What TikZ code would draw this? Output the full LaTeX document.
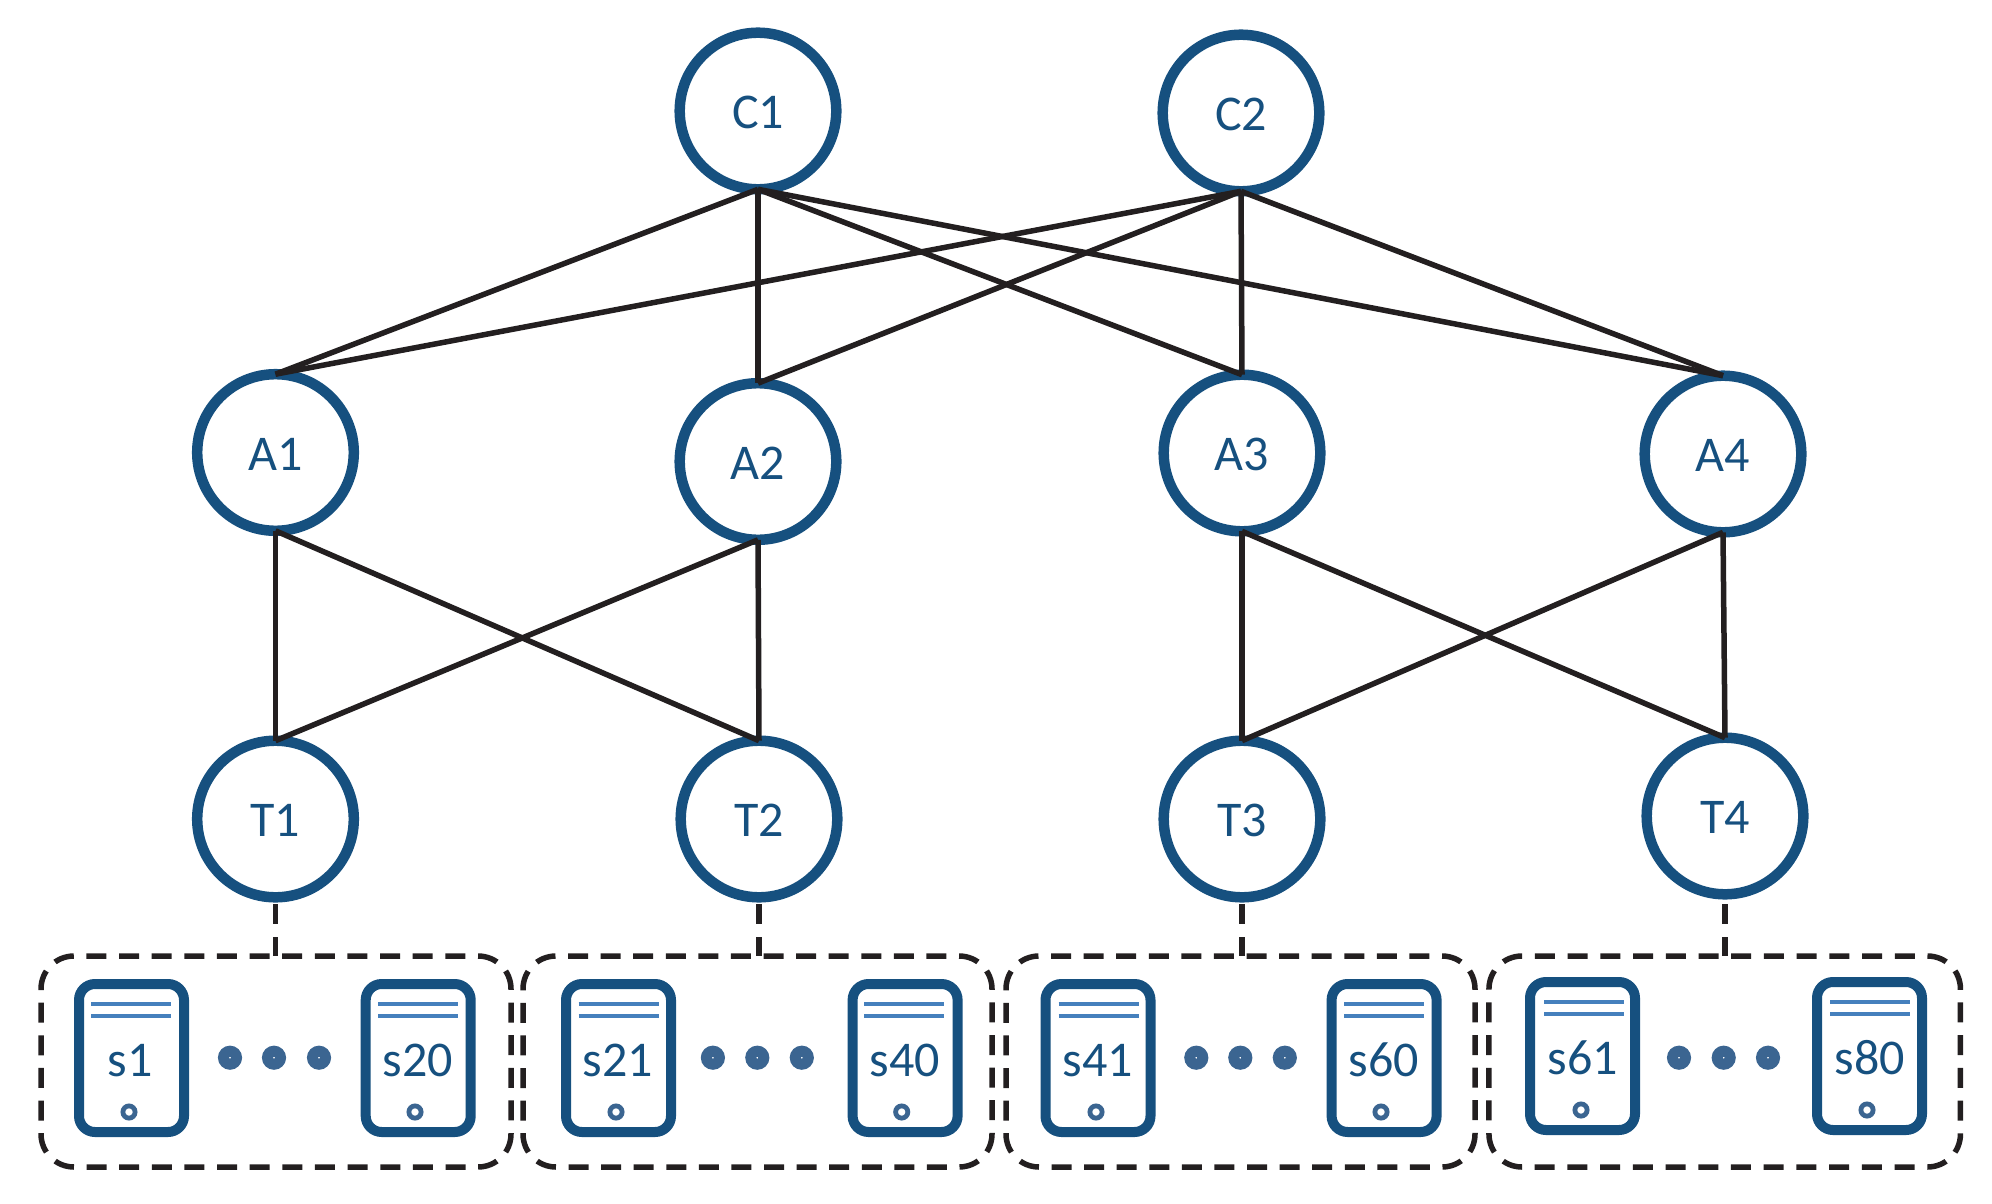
\documentclass[tikz,border=0pt]{standalone}
\usepackage{fontspec}
\setmainfont{Carlito}
\definecolor{netblue}{HTML}{16507F}
\definecolor{barblue}{HTML}{4580BD}
\definecolor{dotblue}{HTML}{3B6591}
\definecolor{wire}{HTML}{231F20}
\tikzset{
  sw/.style={circle,draw=netblue,line width=10.5pt,fill=white,minimum size=156.6pt,inner sep=0pt,outer sep=0pt,text=netblue,text height=35pt,text depth=0pt,font=\fontsize{50}{60}\selectfont},
  link/.style={draw=wire,line width=5.5pt},
  stem/.style={draw=wire,line width=5.5pt,dash pattern=on 20pt off 13pt},
  group/.style={rectangle,draw=wire,line width=5.5pt,rounded corners=33pt,minimum height=211pt,inner sep=0pt,outer sep=0pt,dash phase=20pt},
  srv/.style={rectangle,draw=netblue,line width=10pt,rounded corners=16pt,minimum width=105pt,minimum height=148pt,inner sep=0pt,outer sep=0pt,fill=white},
  srvlabel/.style={anchor=base,inner sep=0pt,text=netblue,font=\fontsize{50}{60}\selectfont},
  bar/.style={draw=barblue,line width=4.6pt},
  knob/.style={circle,draw=dotblue,line width=4.8pt,fill=white,minimum size=12.2pt,inner sep=0pt},
  ellipsisdot/.style={circle,draw=dotblue,line width=11pt,fill=white,minimum size=13pt,inner sep=0pt}
}
% name, rect left, bar left, knob x, text x, top y, label
\newcommand\serverbox[7]{%
  \node[srv] (#1) at ({#2+52.5},{#6+74}) {};
  \draw[bar] (#3,#6+20) coordinate (#1ba) -- ++(80,0);
  \draw[bar] (#3,#6+32) coordinate (#1bb) -- ++(80,0);
  \node[knob] (#1k) at (#4,#6+128) {};
  \node[srvlabel] (#1t) at (#5,#6+92) {#7};
}
\newcommand\threedots[5]{%
  \node[ellipsisdot] (#1a) at (#2,#5) {};
  \node[ellipsisdot] (#1b) at (#3,#5) {};
  \node[ellipsisdot] (#1c) at (#4,#5) {};
}
\begin{document}
\begin{tikzpicture}[x=1pt,y=-1pt]
\useasboundingbox (0,0) rectangle (1992,1204);
% switches
\node[sw] (C1) at (758,111) {C1};
\node[sw] (C2) at (1241,113) {C2};
\node[sw] (A1) at (275.5,452.5) {A1};
\node[sw] (A2) at (758,461.5) {A2};
\node[sw] (A3) at (1242,453) {A3};
\node[sw] (A4) at (1723,454) {A4};
\node[sw] (T1) at (275.5,819) {T1};
\node[sw] (T2) at (759,819) {T2};
\node[sw] (T3) at (1242,819) {T3};
\node[sw] (T4) at (1725,816) {T4};
% links
\foreach \u in {C1,C2}{\foreach \v in {A1,A2,A3,A4}{\draw[link] (\u.south) -- (\v.north);}}
\foreach \u in {A1,A2}{\foreach \v in {T1,T2}{\draw[link] (\u.south) -- (\v.north);}}
\foreach \u in {A3,A4}{\foreach \v in {T3,T4}{\draw[link] (\u.south) -- (\v.north);}}
% server groups
\node[group,minimum width=470pt,dash pattern=on 20pt off 12.63pt] (G1) at (276,1061.5) {};
\node[group,minimum width=469pt,dash pattern=on 20pt off 12.58pt] (G2) at (757.5,1061.5) {};
\node[group,minimum width=469pt,dash pattern=on 20pt off 12.58pt] (G3) at (1240.5,1061.5) {};
\node[group,minimum width=471.5pt,dash pattern=on 20pt off 12.71pt] (G4) at (1724.7,1061.5) {};
% stems
\draw[stem,dash phase=26pt] (T1.south) -- (G1.north -| T1.south);
\draw[stem,dash phase=26pt] (T2.south) -- (G2.north -| T2.south);
\draw[stem,dash phase=26pt] (T3.south) -- (G3.north -| T3.south);
\draw[stem,dash phase=23pt] (T4.south) -- (G4.north -| T4.south);
% servers
\serverbox{s1}{79}{91}{129}{130.4}{984}{s1}
\serverbox{s20}{365.7}{378}{415}{418}{984}{s20}
\serverbox{s21}{566}{578.6}{616}{617.7}{984}{s21}
\serverbox{s40}{852.6}{864}{901.7}{905}{984}{s40}
\serverbox{s41}{1045.5}{1058.5}{1096}{1098}{984}{s41}
\serverbox{s60}{1331.6}{1344}{1381}{1384}{984}{s60}
\serverbox{s61}{1530}{1544}{1581}{1582.7}{982}{s61}
\serverbox{s80}{1817}{1830}{1867}{1870}{982}{s80}
% ellipses
\threedots{d1}{230}{274}{319}{1057.7}
\threedots{d2}{712.9}{757.3}{801.8}{1057.7}
\threedots{d3}{1196.3}{1240.3}{1284.8}{1057.7}
\threedots{d4}{1679}{1723.7}{1768}{1057.7}
\end{tikzpicture}
\end{document}
